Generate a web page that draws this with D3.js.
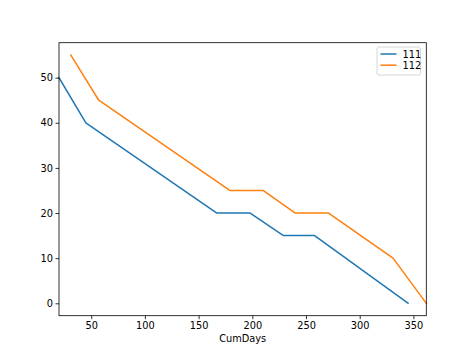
<!DOCTYPE html>
<html><head><meta charset="utf-8">
<script src="https://cdn.jsdelivr.net/npm/d3@7/dist/d3.min.js"></script>
<style>
body{margin:0;background:#fff;}
text{font-family:"DejaVu Sans",sans-serif;}
</style></head>
<body>
<svg id="chart" width="474" height="355"></svg>
<script>
const seriesNames = ["111", "112"];
const days111 = [20, 45, 167, 198, 229, 258, 345];
const vals111 = [50, 40, 20, 20, 15, 15, 0];
const days112 = [31, 57, 179, 210, 240, 271, 331, 362];
const vals112 = [55, 45, 25, 25, 20, 20, 10, 0];
const xTicks = [50, 100, 150, 200, 250, 300, 350];
const yTicks = [0, 10, 20, 30, 40, 50];
const colors = ["#1f77b4", "#ff7f0e"];
const xLabel = "CumDays";

const svg = d3.select("#chart");
const L = 59, R = 426.3, T = 42.7, B = 315.7;
const x = d3.scaleLinear().domain([20, 362]).range([L, R]);
const y = d3.scaleLinear().domain([-2.75, 57.75]).range([B, T]);

const series = [
  days111.map((d, i) => [d, vals111[i]]),
  days112.map((d, i) => [d, vals112[i]])
];
const line = d3.line().x(d => x(d[0])).y(d => y(d[1]));

const g = svg.append("g");
series.forEach((s, i) => {
  g.append("path").datum(s).attr("d", line)
    .attr("fill", "none").attr("stroke", colors[i]).attr("stroke-width", 1.5)
    .attr("stroke-linejoin", "round").attr("stroke-linecap", "square");
});

// frame
svg.append("rect").attr("x", L).attr("y", T).attr("width", R - L).attr("height", B - T)
  .attr("fill", "none").attr("stroke", "#000").attr("stroke-width", 0.8);

const xAxis = svg.append("g").attr("transform", `translate(0,${B})`)
  .call(d3.axisBottom(x).tickValues(xTicks).tickSize(3.5).tickPadding(2.6).tickFormat(d3.format("d")));
const yAxis = svg.append("g").attr("transform", `translate(${L},0)`)
  .call(d3.axisLeft(y).tickValues(yTicks).tickSize(3.5).tickPadding(2.6).tickFormat(d3.format("d")));
[xAxis, yAxis].forEach(a => {
  a.select(".domain").remove();
  a.selectAll("line").attr("stroke", "#000").attr("stroke-width", 0.8);
  a.selectAll("text").attr("font-size", "9.8px").attr("fill", "#000")
    .attr("font-family", "DejaVu Sans, sans-serif");
});

svg.append("text").attr("x", (L + R) / 2).attr("y", 342)
  .attr("text-anchor", "middle").attr("font-size", "9.8px").text(xLabel);

// legend
const lg = svg.append("g");
lg.append("rect").attr("x", 377).attr("y", 47).attr("width", 43.5).attr("height", 28)
  .attr("rx", 2).attr("fill", "#fff").attr("fill-opacity", 0.8)
  .attr("stroke", "#ccc").attr("stroke-width", 0.8);
seriesNames.forEach((n, i) => {
  const yy = 54 + i * 11.2;
  lg.append("line").attr("x1", 380.5).attr("x2", 396.5).attr("y1", yy).attr("y2", yy)
    .attr("stroke", colors[i]).attr("stroke-width", 1.5);
  lg.append("text").attr("x", 402.5).attr("y", yy + 3.5).attr("font-size", "9.8px").text(n);
});
</script>
</body></html>
